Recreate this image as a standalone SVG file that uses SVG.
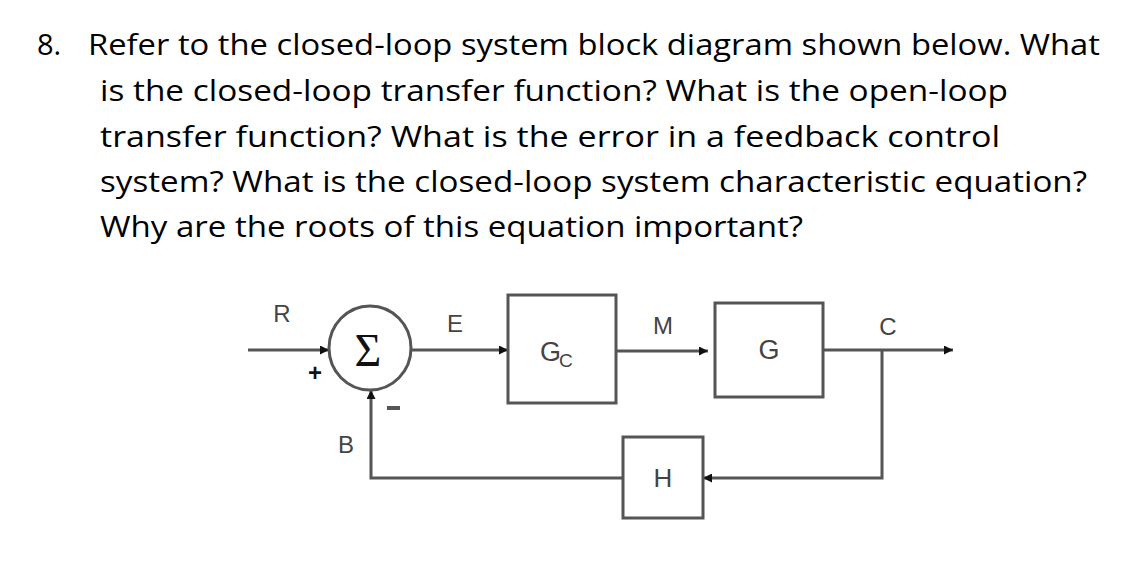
<svg xmlns="http://www.w3.org/2000/svg" width="1134" height="578" viewBox="0 0 1134 578">
<style>
.q{font-family:"Open Sans","DejaVu Sans",sans-serif;font-size:29px;fill:#000}
.l{font-family:"Liberation Sans",Arial,sans-serif;font-size:24px;fill:#444}
.b{fill:#fff;stroke:#555;stroke-width:3}
.c{fill:none;stroke:#555;stroke-width:3}
</style>
<defs><marker id="a" viewBox="0 0 10 10" refX="10" refY="5" markerWidth="3" markerHeight="3" orient="auto" markerUnits="strokeWidth"><path d="M0,0L10,5L0,10z" fill="#111"/></marker></defs>
<rect width="1134" height="578" fill="#fff"/>
<text class="q" x="37" y="55">8.</text>
<text class="q" x="88" y="55" textLength="1012" lengthAdjust="spacingAndGlyphs">Refer to the closed-loop system block diagram shown below.  What</text>
<text class="q" x="100" y="101" textLength="908" lengthAdjust="spacingAndGlyphs">is the closed-loop transfer function?  What is the open-loop</text>
<text class="q" x="100" y="147" textLength="900" lengthAdjust="spacingAndGlyphs">transfer function?  What is the error in a feedback control</text>
<text class="q" x="100" y="192" textLength="987" lengthAdjust="spacingAndGlyphs">system? What is the closed-loop system characteristic equation?</text>
<text class="q" x="100" y="237" textLength="703" lengthAdjust="spacingAndGlyphs">Why are the roots of this equation important?</text>
<g id="connectors" class="c">
<path d="M248,350H329" marker-end="url(#a)"/>
<path d="M412,350H508" marker-end="url(#a)"/>
<path d="M616,351H708" marker-end="url(#a)"/>
<path d="M823,350H953" marker-end="url(#a)"/>
<path d="M882,350V478H703" marker-end="url(#a)"/>
<path d="M623,478H371V390" marker-end="url(#a)"/>
</g>
<g id="sum"><ellipse class="b" cx="370" cy="348" rx="41" ry="42"/><text x="368" y="366" text-anchor="middle" style="font-family:'Liberation Serif',serif;font-size:46px;fill:#111">Σ</text></g>
<g id="Gc"><rect class="b" x="508" y="295" width="108" height="108"/><text class="l" x="540" y="361" style="font-size:27px">G</text><text class="l" x="559" y="367" style="font-size:19px">C</text></g>
<g id="G"><rect class="b" x="715" y="303" width="108" height="94"/><text class="l" x="769" y="359" text-anchor="middle" style="font-size:27px">G</text></g>
<g id="H"><rect class="b" x="623" y="437" width="80" height="81"/><text class="l" x="663" y="487" text-anchor="middle" style="font-size:26px">H</text></g>
<g id="labels">
<text class="l" x="282" y="322" text-anchor="middle">R</text>
<text class="l" x="455" y="332" text-anchor="middle">E</text>
<text class="l" x="663" y="334" text-anchor="middle">M</text>
<text class="l" x="888" y="335" text-anchor="middle">C</text>
<text class="l" x="346" y="453" text-anchor="middle">B</text>
<text x="315" y="381" text-anchor="middle" style="font-family:'Liberation Sans',sans-serif;font-size:24px;font-weight:bold;fill:#111">+</text>
<rect x="387" y="406" width="13" height="4" fill="#555"/>
</g>
</svg>
